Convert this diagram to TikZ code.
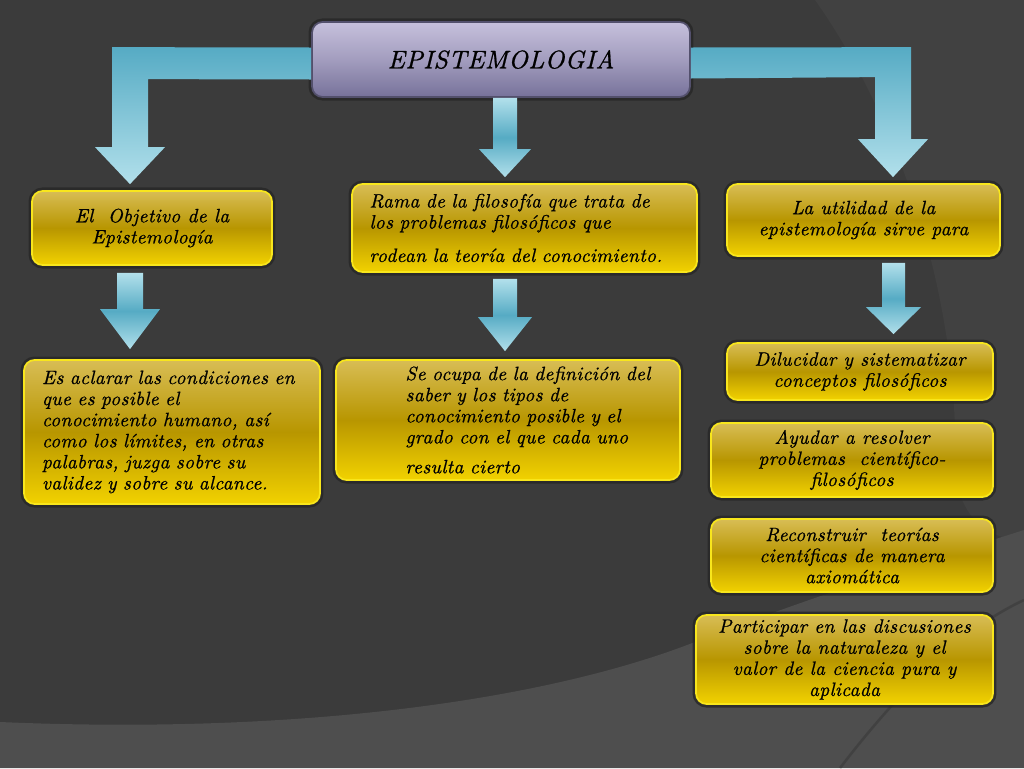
\documentclass[tikz,border=0pt]{standalone}
\usepackage{fontspec}
\setmainfont{lmroman10-regular.otf}[ItalicFont=lmroman10-italic.otf,
  ItalicFeatures={FakeBold=0.8},LetterSpace=2]
\usetikzlibrary{calc}

\definecolor{fondo}{HTML}{3B3B3B}
\definecolor{fondoarco}{HTML}{414141}
\definecolor{fondoclaro}{HTML}{4E4E4E}
\definecolor{sombra}{HTML}{262626}
\definecolor{amarillosup}{HTML}{D8BD55}
\definecolor{amarillomed}{HTML}{B89600}
\definecolor{amarilloinf}{HTML}{F2D200}
\definecolor{amarilloborde}{HTML}{F8E61C}
\definecolor{moradosup}{HTML}{C6C0DC}
\definecolor{moradoinf}{HTML}{77729A}
\definecolor{azulpalido}{HTML}{B2E0EB}
\definecolor{azulmedio}{HTML}{56ABC4}

\begin{document}
\begin{tikzpicture}[
  x=0.02cm, y=-0.02cm,
  every node/.style={font=\itshape\fontsize{11}{12}\selectfont},
  caja/.style={draw=amarilloborde,line width=1pt,rounded corners=6pt,
    top color=amarillosup,bottom color=amarilloinf,middle color=amarillomed,
    inner sep=2pt,preaction={draw=sombra,line width=4pt,opacity=0.8}},
  titulo/.style={draw=moradoinf!70!black,line width=1pt,rounded corners=6pt,
    top color=moradosup,bottom color=moradoinf,middle color=moradosup!55!moradoinf,
    preaction={draw=sombra,line width=4pt,opacity=0.8},
    minimum width=7.56cm,minimum height=1.5cm,
    font=\itshape\fontsize{14.5}{16}\selectfont},
  codo/.style={top color=azulmedio,bottom color=azulpalido},
  flecha/.style={top color=azulpalido,bottom color=azulpalido,middle color=azulmedio}
]
\useasboundingbox (0,0) rectangle (1024,768);
% fondo
\fill[fondo] (0,0) rectangle (1024,768);
\fill[fondoarco] (815,0) .. controls (900,120) and (960,300) .. (955,470)
  .. controls (960,520) and (990,540) .. (1024,540) -- (1024,0) -- cycle;
\fill[fondoclaro] (0,722) .. controls (300,735) and (550,700) .. (700,640)
  .. controls (830,590) and (930,560) .. (1024,530) -- (1024,768) -- (0,768) -- cycle;
\draw[sombra,opacity=0.3,line width=1.5pt] (840,768) .. controls (900,690) and (960,630) .. (1024,600);

% cajas
\node[titulo] (epi) at (501,59.5) {EPISTEMOLOGIA};
\node[caja,minimum width=4.8cm,minimum height=1.48cm,align=center] (obj) at (152,228)
  {El\ \ Objetivo de la\\ Epistemología};
\node[caja,minimum width=6.9cm,minimum height=1.76cm,text width=6.2cm,align=left] (rama) at (524.5,228)
  {Rama de la filosofía que trata de\\ los problemas filosóficos que\\[7pt] rodean la teoría del conocimiento.};
\node[caja,minimum width=5.46cm,minimum height=1.44cm,align=center] (util) at (863.5,220)
  {La utilidad de la\\ epistemología sirve para};
\node[caja,minimum width=5.92cm,minimum height=2.88cm,text width=5.2cm,align=left] (aclarar) at (172,432)
  {Es aclarar las condiciones en\\ que es posible el\\ conocimiento humano, así\\ como los límites, en otras\\ palabras, juzga sobre su\\ validez y sobre su alcance.};
\node[caja,minimum width=6.88cm,minimum height=2.4cm,text width=6.1cm,align=left] (ocupa) at (508,420)
  {\hspace*{1cm}Se ocupa de la definición del\\ \hspace*{1cm}saber y los tipos de\\ \hspace*{1cm}conocimiento posible y el\\ \hspace*{1cm}grado con el que cada uno\\[5pt] \hspace*{1cm}resulta cierto};
\node[caja,minimum width=5.32cm,minimum height=1.14cm,align=center] (dilucidar) at (860,371.5)
  {Dilucidar y sistematizar\\ conceptos filosóficos};
\node[caja,minimum width=5.64cm,minimum height=1.48cm,align=center] (ayudar) at (852,460)
  {Ayudar a resolver\\ problemas\ \ científico-\\ filosóficos};
\node[caja,minimum width=5.64cm,minimum height=1.46cm,align=center] (reconstruir) at (852,555.5)
  {Reconstruir\ \ teorías\\ científicas de manera\\ axiomática};
\node[caja,minimum width=5.94cm,minimum height=1.78cm,align=center] (participar) at (844.5,659.5)
  {Participar en las discusiones\\ sobre la naturaleza y el\\ valor de la ciencia pura y\\ aplicada};

% puntas y arranques de las flechas
\coordinate (tL) at ($(obj.north)+(-22,-6)$);
\coordinate (tM) at ($(rama.north)+(-19.5,-6)$);
\coordinate (sM) at (tM |- epi.south);
\coordinate (tR) at ($(util.north)+(29.5,-6)$);
\coordinate (s2) at ($(obj.south)+(-22,7)$);
\coordinate (t2) at ($(aclarar.north)+(-42,-10)$);
\coordinate (s3) at ($(rama.south)+(-19.5,6)$);
\coordinate (t3) at ($(ocupa.north)+(-3,-8)$);
\coordinate (s4) at ($(util.south)+(30,6)$);
\coordinate (t4) at ($(dilucidar.north)+(33.5,-8)$);

% flechas en codo
\path[codo] ($(epi.west)+(0,-12)$) -- ($(tL)+(-18,-137)$) -- ($(tL)+(-18,-37)$)
  -- ($(tL)+(-35,-37)$) -- (tL) -- ($(tL)+(35,-37)$) -- ($(tL)+(18,-37)$)
  -- ($(tL)+(18,-105)$) -- ($(epi.west)+(0,20)$) -- cycle;
\path[codo] ($(epi.east)+(0,-12)$) -- ($(tR)+(18,-130)$) -- ($(tR)+(18,-38)$)
  -- ($(tR)+(35,-38)$) -- (tR) -- ($(tR)+(-35,-38)$) -- ($(tR)+(-18,-38)$)
  -- ($(tR)+(-18,-100)$) -- ($(epi.east)+(0,19)$) -- cycle;

% flechas rectas
\path[flecha] ($(sM)+(-12,0)$) -- ($(tM)+(-12,-28)$) -- ($(tM)+(-26,-28)$) -- (tM)
  -- ($(tM)+(26,-28)$) -- ($(tM)+(12,-28)$) -- ($(sM)+(12,0)$) -- cycle;
\path[flecha] ($(s2)+(-13,0)$) -- ($(t2)+(-13,-40)$) -- ($(t2)+(-30,-40)$) -- (t2)
  -- ($(t2)+(30,-40)$) -- ($(t2)+(13,-40)$) -- ($(s2)+(13,0)$) -- cycle;
\path[flecha] ($(s3)+(-12,0)$) -- ($(t3)+(-12,-34)$) -- ($(t3)+(-27,-34)$) -- (t3)
  -- ($(t3)+(27,-34)$) -- ($(t3)+(12,-34)$) -- ($(s3)+(12,0)$) -- cycle;
\path[flecha] ($(s4)+(-11.5,0)$) -- ($(t4)+(-11.5,-27)$) -- ($(t4)+(-27.5,-27)$) -- (t4)
  -- ($(t4)+(27.5,-27)$) -- ($(t4)+(11.5,-27)$) -- ($(s4)+(11.5,0)$) -- cycle;
\end{tikzpicture}
\end{document}
